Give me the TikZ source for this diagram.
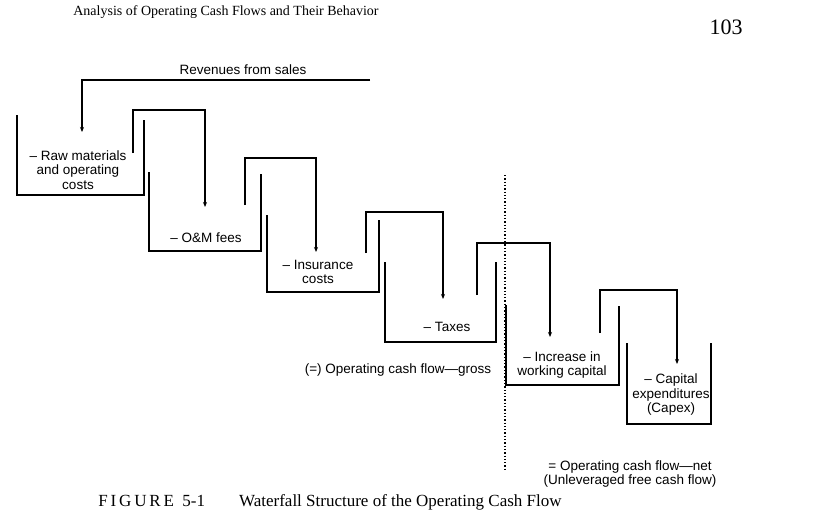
\documentclass[tikz,border=0pt]{standalone}
\usepackage{fontspec}
\setmainfont{Liberation Serif}
\setsansfont{Liberation Sans}
\usetikzlibrary{arrows.meta}
\begin{document}
\begin{tikzpicture}[x=1pt,y=-1pt,
  wall/.style={line width=1.2pt},
  flow/.style={line width=1.2pt,-{Stealth[length=5pt,width=4pt]}},
  lbl/.style={font=\sffamily\fontsize{13.5}{14.5}\selectfont,align=center,inner sep=1pt}]
\useasboundingbox (0,0) rectangle (824,527);
% header / caption
\node[font=\fontsize{14}{16}\selectfont] (hdr) at (226,12) {Analysis of Operating Cash Flows and Their Behavior};
\node[font=\fontsize{22}{24}\selectfont] (pg) at (726,27) {103};
\node[font=\fontsize{17}{19}\selectfont] (cap) at (330,502) {F\,I\,G\,U\,R\,E\ \ 5-1\qquad Waterfall Structure of the Operating Cash Flow};
% buckets
\draw[wall] (17,115) |- (144,195) -- (144,120);
\draw[wall] (149,172) |- (261,251) -- (261,174);
\draw[wall] (267,215) |- (379,292) -- (379,220);
\draw[wall] (385,262) |- (496,342) -- (496,262);
\draw[wall] (506,305) |- (619,385) -- (619,306);
\draw[wall] (627,343) |- (711,424) -- (711,343);
% labels
\node[lbl] (b1) at (78,170) {-- Raw materials\\and operating\\costs};
\node[lbl] (b2) at (206,238) {-- O\&M fees};
\node[lbl] (b3) at (318,272) {-- Insurance\\costs};
\node[lbl] (b4) at (447,327) {-- Taxes};
\node[lbl] (b5) at (562,365) {-- Increase in\\working capital};
\node[lbl] (b6) at (671,395) {-- Capital\\expenditures\\(Capex)};
\coordinate (r0) at (370,80);
\coordinate (a1) at (82,132);
\coordinate (s1) at (133,153); \coordinate (a2) at (205,207);
\coordinate (s2) at (245,205); \coordinate (a3) at (316,252);
\coordinate (s3) at (366,253); \coordinate (a4) at (443,299);
\coordinate (s4) at (477,295); \coordinate (a5) at (550,337);
\coordinate (s5) at (600,333); \coordinate (a6) at (677,364);
% flows
\draw[flow] (r0) -- (82,80) -- (a1);
\node[lbl] (rev) at (243,70) {Revenues from sales};
\draw[flow] (s1) -- (133,110) -| (a2);
\draw[flow] (s2) -- (245,158) -| (a3);
\draw[flow] (s3) -- (366,212) -| (a4);
\draw[flow] (s4) -- (477,243) -| (a5);
\draw[flow] (s5) -- (600,290) -| (a6);
% dotted divider
\coordinate (d1) at (505,175); \coordinate (d2) at (505,470);
\draw[line width=1.3pt,dotted] (d1) -- (d2);
\node[lbl] (gross) at (398,370) {(=) Operating cash flow---gross};
\node[lbl] (net) at (630,474) {= Operating cash flow---net\\(Unleveraged free cash flow)};
\end{tikzpicture}
\end{document}
